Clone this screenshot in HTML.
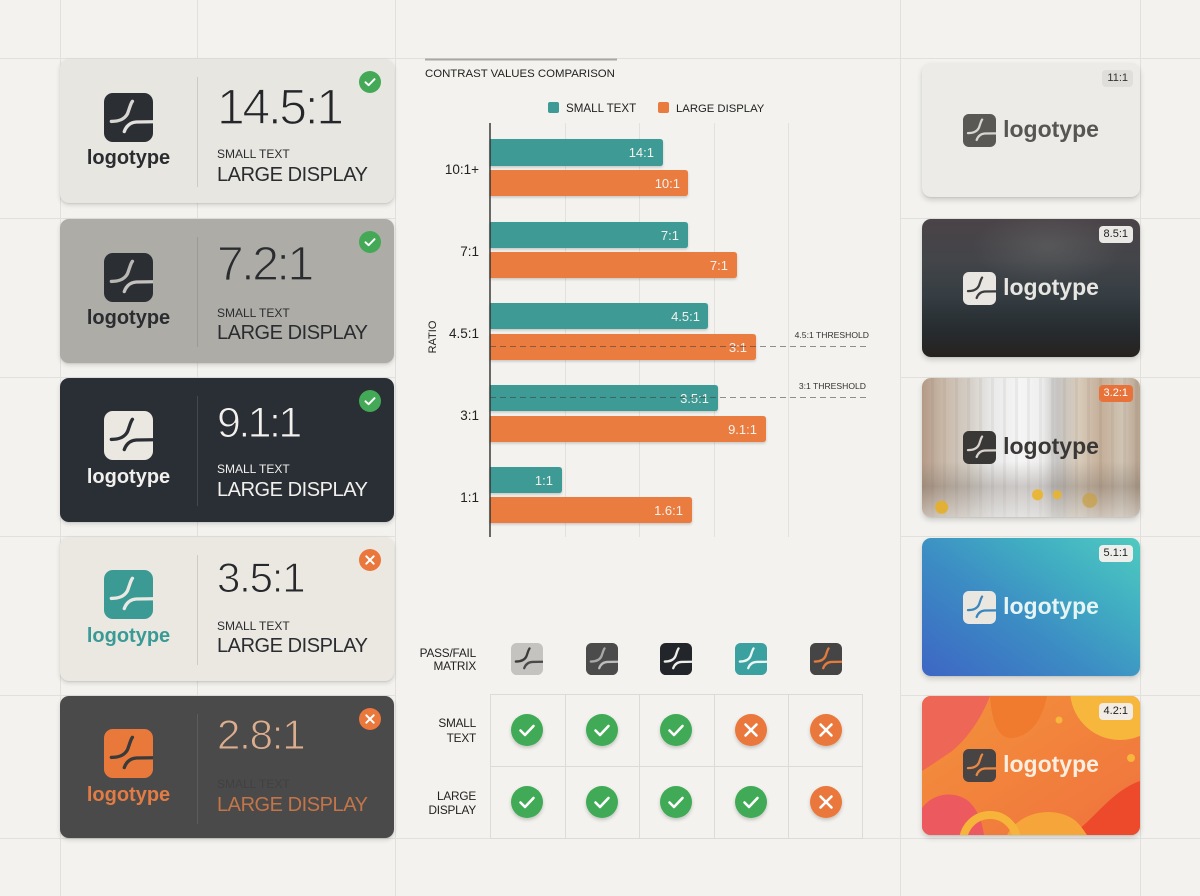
<!DOCTYPE html>
<html><head><meta charset="utf-8">
<style>
*{margin:0;padding:0;box-sizing:border-box}
body{width:1200px;height:896px;background:#f3f2ee;position:relative;overflow:hidden;font-family:"Liberation Sans",sans-serif}
.abs{position:absolute}
.lc{position:absolute;left:60px;width:334px;height:144px;border-radius:9px;box-shadow:0 2px 5px rgba(0,0,0,.14),0 1px 1px rgba(0,0,0,.06);overflow:hidden}
.lc .logo{position:absolute;left:44px;top:34px;width:49px;height:49px}
.lc .lt{position:absolute;left:0;width:137px;text-align:center;font-weight:bold;font-size:20px;line-height:20px;top:89px}
.lc .dv{position:absolute;left:137px;top:18px;width:1px;height:110px;background:rgba(0,0,0,.12)}
.lc .rt{position:absolute;left:157px;white-space:nowrap}
.lc .st{position:absolute;left:157px;font-size:12px;line-height:12px;white-space:nowrap}
.lc .ld{position:absolute;left:157px;font-size:20px;line-height:20px;letter-spacing:-0.45px;white-space:nowrap}
.lc .bd{position:absolute;left:299px;top:12px;width:22px;height:22px}
.rc{position:absolute;left:922px;width:218px;border-radius:9px;overflow:hidden;box-shadow:0 3px 6px rgba(0,0,0,.16),0 1px 1px rgba(0,0,0,.06)}
.rc .in{position:absolute;left:0;top:0;width:100%;height:100%;display:flex;align-items:center;justify-content:center}
.rc .in svg{width:33px;height:33px;flex:none}
.rc .in span{font-weight:bold;font-size:23px;line-height:23px;margin-left:7px;margin-top:-2px}
.rc .bg{position:absolute;right:7px;top:7px;height:17px;padding:0 5px;font-size:11px;line-height:17px;border-radius:4px}
</style></head><body>

<svg class="abs" style="left:0;top:0" width="1200" height="896" viewBox="0 0 1200 896">
<defs>
<filter id="sh" x="-10%" y="-30%" width="120%" height="170%"><feDropShadow dx="0" dy="1.5" stdDeviation="1.4" flood-color="#000" flood-opacity="0.18"/></filter>
<filter id="sh2" x="-30%" y="-30%" width="160%" height="170%"><feDropShadow dx="0" dy="2" stdDeviation="1.8" flood-color="#000" flood-opacity="0.2"/></filter>
</defs>
<g stroke="#e1e0dc" stroke-width="1">
<line x1="60.5" y1="0" x2="60.5" y2="896"/>
<line x1="197.5" y1="0" x2="197.5" y2="838"/>
<line x1="395.5" y1="0" x2="395.5" y2="896"/>
<line x1="900.5" y1="0" x2="900.5" y2="896"/>
<line x1="1140.5" y1="0" x2="1140.5" y2="896"/>
<line x1="0" y1="58.5" x2="1200" y2="58.5"/>
<line x1="0" y1="218.5" x2="395" y2="218.5"/><line x1="900" y1="218.5" x2="1200" y2="218.5"/>
<line x1="0" y1="377.5" x2="395" y2="377.5"/><line x1="900" y1="377.5" x2="1200" y2="377.5"/>
<line x1="0" y1="536.5" x2="395" y2="536.5"/><line x1="900" y1="536.5" x2="1200" y2="536.5"/>
<line x1="0" y1="695.5" x2="395" y2="695.5"/><line x1="900" y1="695.5" x2="1200" y2="695.5"/>
<line x1="0" y1="838.5" x2="1200" y2="838.5"/>
</g>

<line x1="425" y1="59.5" x2="617" y2="59.5" stroke="#a9a8a5" stroke-width="2"/>
<text x="425" y="77" font-size="11.4" fill="#222">CONTRAST VALUES COMPARISON</text>

<rect x="548" y="102" width="11" height="11" rx="2" fill="#3d9a95"/>
<text x="566" y="112" font-size="11.6" fill="#222">SMALL TEXT</text>
<rect x="658" y="102" width="11" height="11" rx="2" fill="#ea7b3f"/>
<text x="676" y="112" font-size="11.3" fill="#222">LARGE DISPLAY</text>

<g stroke="#e2e1dd" stroke-width="1">
<line x1="565.5" y1="123" x2="565.5" y2="537"/>
<line x1="639.5" y1="123" x2="639.5" y2="537"/>
<line x1="714.5" y1="123" x2="714.5" y2="537"/>
<line x1="788.5" y1="123" x2="788.5" y2="537"/>
</g>

<g filter="url(#sh)">
<path d="M490 139 H660 Q663 139 663 142 V163 Q663 166 660 166 H490Z" fill="#3d9a95"/>
<path d="M490 170 H685 Q688 170 688 173 V193 Q688 196 685 196 H490Z" fill="#ea7b3f"/>
<path d="M490 222 H685 Q688 222 688 225 V245 Q688 248 685 248 H490Z" fill="#3d9a95"/>
<path d="M490 252 H734 Q737 252 737 255 V275 Q737 278 734 278 H490Z" fill="#ea7b3f"/>
<path d="M490 303 H705 Q708 303 708 306 V326 Q708 329 705 329 H490Z" fill="#3d9a95"/>
<path d="M490 334 H753 Q756 334 756 337 V357 Q756 360 753 360 H490Z" fill="#ea7b3f"/>
<path d="M490 385 H715 Q718 385 718 388 V408 Q718 411 715 411 H490Z" fill="#3d9a95"/>
<path d="M490 416 H763 Q766 416 766 419 V439 Q766 442 763 442 H490Z" fill="#ea7b3f"/>
<path d="M490 467 H559 Q562 467 562 470 V490 Q562 493 559 493 H490Z" fill="#3d9a95"/>
<path d="M490 497 H689 Q692 497 692 500 V520 Q692 523 689 523 H490Z" fill="#ea7b3f"/>
</g>
<g font-size="13" fill="#f4f1ec" text-anchor="end">
<text x="654" y="157">14:1</text>
<text x="680" y="188">10:1</text>
<text x="679" y="240">7:1</text>
<text x="728" y="270">7:1</text>
<text x="700" y="321">4.5:1</text>
<text x="747" y="352">3:1</text>
<text x="709" y="403">3.5:1</text>
<text x="757" y="434">9.1:1</text>
<text x="553" y="485">1:1</text>
<text x="683" y="515">1.6:1</text>
</g>

<line x1="490" y1="123" x2="490" y2="537" stroke="#2d2d2d" stroke-width="1.4"/>

<g font-size="13.5" fill="#222" text-anchor="end">
<text x="479" y="174">10:1+</text>
<text x="479" y="256">7:1</text>
<text x="479" y="338">4.5:1</text>
<text x="479" y="420">3:1</text>
<text x="479" y="502">1:1</text>
</g>
<text x="436" y="337" font-size="11" fill="#222" text-anchor="middle" transform="rotate(-90 436 337)">RATIO</text>

<line x1="490" y1="346.5" x2="870" y2="346.5" stroke="rgba(60,60,60,0.55)" stroke-width="1" stroke-dasharray="6 4"/>
<line x1="490" y1="397.5" x2="870" y2="397.5" stroke="rgba(60,60,60,0.55)" stroke-width="1" stroke-dasharray="6 4"/>
<text x="869" y="338" font-size="8.6" fill="#333" text-anchor="end">4.5:1 THRESHOLD</text>
<text x="866" y="389" font-size="8.6" fill="#333" text-anchor="end">3:1 THRESHOLD</text>

<g font-size="11.8" fill="#222" text-anchor="end" letter-spacing="-0.2">
<text x="476" y="657">PASS/FAIL</text>
<text x="476" y="670">MATRIX</text>
<text x="476" y="727">SMALL</text>
<text x="476" y="742">TEXT</text>
<text x="476" y="800">LARGE</text>
<text x="476" y="814">DISPLAY</text>
</g>

<g>
<svg x="511" y="643" width="32" height="32" viewBox="0 0 50 50"><rect width="50" height="50" rx="9" fill="#c5c3bf"/><path d="M7.5 29 C15 29 21 27 24 21 C26 16 27 11 29 8.5" stroke="#3b3b3b" stroke-width="3.6" fill="none" stroke-linecap="round"/><path d="M20.7 39.3 C23 33 27 30 33 29.6 L52 29.3" stroke="#4a4a4a" stroke-width="3.6" fill="none" stroke-linecap="round"/></svg>
<svg x="586" y="643" width="32" height="32" viewBox="0 0 50 50"><rect width="50" height="50" rx="9" fill="#4b4b4b"/><path d="M7.5 29 C15 29 21 27 24 21 C26 16 27 11 29 8.5" stroke="#a8a8a8" stroke-width="3.6" fill="none" stroke-linecap="round"/><path d="M20.7 39.3 C23 33 27 30 33 29.6 L52 29.3" stroke="#bdbdbd" stroke-width="3.6" fill="none" stroke-linecap="round"/></svg>
<svg x="660" y="643" width="32" height="32" viewBox="0 0 50 50"><rect width="50" height="50" rx="9" fill="#22262b"/><path d="M7.5 29 C15 29 21 27 24 21 C26 16 27 11 29 8.5" stroke="#f0efeb" stroke-width="3.6" fill="none" stroke-linecap="round"/><path d="M20.7 39.3 C23 33 27 30 33 29.6 L52 29.3" stroke="#f0efeb" stroke-width="3.6" fill="none" stroke-linecap="round"/></svg>
<svg x="735" y="643" width="32" height="32" viewBox="0 0 50 50"><rect width="50" height="50" rx="9" fill="#3ba0a0"/><path d="M7.5 29 C15 29 21 27 24 21 C26 16 27 11 29 8.5" stroke="#eaf5f4" stroke-width="3.6" fill="none" stroke-linecap="round"/><path d="M20.7 39.3 C23 33 27 30 33 29.6 L52 29.3" stroke="#eaf5f4" stroke-width="3.6" fill="none" stroke-linecap="round"/></svg>
<svg x="810" y="643" width="32" height="32" viewBox="0 0 50 50"><rect width="50" height="50" rx="9" fill="#454545"/><path d="M7.5 29 C15 29 21 27 24 21 C26 16 27 11 29 8.5" stroke="#e47b3e" stroke-width="3.6" fill="none" stroke-linecap="round"/><path d="M20.7 39.3 C23 33 27 30 33 29.6 L52 29.3" stroke="#e47b3e" stroke-width="3.6" fill="none" stroke-linecap="round"/></svg>
</g>

<g stroke="#dcdbd7" stroke-width="1" fill="none">
<rect x="490.5" y="694.5" width="372" height="144"/>
<line x1="565.5" y1="694" x2="565.5" y2="838"/>
<line x1="639.5" y1="694" x2="639.5" y2="838"/>
<line x1="714.5" y1="694" x2="714.5" y2="838"/>
<line x1="788.5" y1="694" x2="788.5" y2="838"/>
<line x1="490" y1="766.5" x2="863" y2="766.5"/>
</g>
<g filter="url(#sh2)">
<circle cx="527" cy="730" r="16" fill="#3faa57"/>
<circle cx="602" cy="730" r="16" fill="#3faa57"/>
<circle cx="676" cy="730" r="16" fill="#3faa57"/>
<circle cx="751" cy="730" r="16" fill="#ea773b"/>
<circle cx="826" cy="730" r="16" fill="#ea773b"/>
<circle cx="527" cy="802" r="16" fill="#3faa57"/>
<circle cx="602" cy="802" r="16" fill="#3faa57"/>
<circle cx="676" cy="802" r="16" fill="#3faa57"/>
<circle cx="751" cy="802" r="16" fill="#3faa57"/>
<circle cx="826" cy="802" r="16" fill="#ea773b"/>
</g>
<g stroke="#fff" stroke-width="2.6" fill="none" stroke-linecap="round" stroke-linejoin="round">
<path d="M520.5 730.5 L525 735 L533.5 726"/>
<path d="M595.5 730.5 L600 735 L608.5 726"/>
<path d="M669.5 730.5 L674 735 L682.5 726"/>
<path d="M745.5 724.5 L756.5 735.5 M756.5 724.5 L745.5 735.5"/>
<path d="M820.5 724.5 L831.5 735.5 M831.5 724.5 L820.5 735.5"/>
<path d="M520.5 802.5 L525 807 L533.5 798"/>
<path d="M595.5 802.5 L600 807 L608.5 798"/>
<path d="M669.5 802.5 L674 807 L682.5 798"/>
<path d="M744.5 802.5 L749 807 L757.5 798"/>
<path d="M820.5 796.5 L831.5 807.5 M831.5 796.5 L820.5 807.5"/>
</g>
</svg>

<!-- LEFT CARDS -->
<div class="lc" style="top:59px;background:#e8e6e1">
  <svg class="logo" viewBox="0 0 50 50"><rect width="50" height="50" rx="9" fill="#2b2e33"/><path d="M7.5 29 C15 29 21 27 24 21 C26 16 27 11 29 8.5" stroke="#d8d6d2" stroke-width="3.4" fill="none" stroke-linecap="round"/><path d="M20.7 39.3 C23 33 27 30 33 29.6 L52 29.3" stroke="#e4e2de" stroke-width="3.4" fill="none" stroke-linecap="round"/></svg>
  <div class="lt" style="color:#2a2c30">logotype</div>
  <div class="dv"></div>
  <div class="rt" style="top:22.7px;font-size:50px;line-height:50px;letter-spacing:-2.4px;color:#24262a;-webkit-text-stroke:1.3px #e8e6e1">14.5:1</div>
  <div class="st" style="top:89px;color:#2a2c30">SMALL TEXT</div>
  <div class="ld" style="top:106px;color:#2a2c30">LARGE DISPLAY</div>
  <svg class="bd" viewBox="0 0 22 22"><circle cx="11" cy="11" r="11" fill="#43a957"/><path d="M6.5 11.3 L9.6 14.2 L15.5 8.2" stroke="#fff" stroke-width="2" fill="none" stroke-linecap="round" stroke-linejoin="round"/></svg>
</div>

<div class="lc" style="top:219px;background:#adaca7">
  <svg class="logo" viewBox="0 0 50 50"><rect width="50" height="50" rx="9" fill="#2b2e33"/><path d="M7.5 29 C15 29 21 27 24 21 C26 16 27 11 29 8.5" stroke="#b9b7b3" stroke-width="3.4" fill="none" stroke-linecap="round"/><path d="M20.7 39.3 C23 33 27 30 33 29.6 L52 29.3" stroke="#c4c2be" stroke-width="3.4" fill="none" stroke-linecap="round"/></svg>
  <div class="lt" style="color:#2a2c30">logotype</div>
  <div class="dv" style="background:rgba(0,0,0,.1)"></div>
  <div class="rt" style="top:22.4px;font-size:48px;line-height:48px;letter-spacing:-2.4px;color:#2a2c30;-webkit-text-stroke:1.2px #adaca7">7.2:1</div>
  <div class="st" style="top:88px;color:#2a2c30">SMALL TEXT</div>
  <div class="ld" style="top:104px;color:#2a2c30">LARGE DISPLAY</div>
  <svg class="bd" viewBox="0 0 22 22"><circle cx="11" cy="11" r="11" fill="#43a957"/><path d="M6.5 11.3 L9.6 14.2 L15.5 8.2" stroke="#fff" stroke-width="2" fill="none" stroke-linecap="round" stroke-linejoin="round"/></svg>
</div>

<div class="lc" style="top:378px;background:#2a2e35">
  <svg class="logo" style="top:33px" viewBox="0 0 50 50"><rect width="50" height="50" rx="9" fill="#ebe8e2"/><path d="M7.5 29 C15 29 21 27 24 21 C26 16 27 11 29 8.5" stroke="#2a2e35" stroke-width="3.4" fill="none" stroke-linecap="round"/><path d="M20.7 39.3 C23 33 27 30 33 29.6 L52 29.3" stroke="#2a2e35" stroke-width="3.4" fill="none" stroke-linecap="round"/></svg>
  <div class="lt" style="color:#f1f0ec">logotype</div>
  <div class="dv" style="background:rgba(255,255,255,.13)"></div>
  <div class="rt" style="top:23.6px;font-size:43px;line-height:43px;letter-spacing:-2.6px;color:#f2f1ed;-webkit-text-stroke:1px #2a2e35">9.1:1</div>
  <div class="st" style="top:85px;color:#f1f0ec">SMALL TEXT</div>
  <div class="ld" style="top:102px;color:#f1f0ec">LARGE DISPLAY</div>
  <svg class="bd" viewBox="0 0 22 22"><circle cx="11" cy="11" r="11" fill="#43a957"/><path d="M6.5 11.3 L9.6 14.2 L15.5 8.2" stroke="#fff" stroke-width="2" fill="none" stroke-linecap="round" stroke-linejoin="round"/></svg>
</div>

<div class="lc" style="top:537px;background:#ebe8e2">
  <svg class="logo" style="top:33px" viewBox="0 0 50 50"><rect width="50" height="50" rx="9" fill="#3c9a95"/><path d="M7.5 29 C15 29 21 27 24 21 C26 16 27 11 29 8.5" stroke="#ebe9e3" stroke-width="3.4" fill="none" stroke-linecap="round"/><path d="M20.7 39.3 C23 33 27 30 33 29.6 L52 29.3" stroke="#ebe9e3" stroke-width="3.4" fill="none" stroke-linecap="round"/></svg>
  <div class="lt" style="color:#3a9a95">logotype</div>
  <div class="dv"></div>
  <div class="rt" style="top:20.4px;font-size:42px;line-height:42px;letter-spacing:-1.2px;color:#26282c;-webkit-text-stroke:1px #ebe8e2">3.5:1</div>
  <div class="st" style="top:83px;color:#2a2c30">SMALL TEXT</div>
  <div class="ld" style="top:99px;color:#2a2c30">LARGE DISPLAY</div>
  <svg class="bd" viewBox="0 0 22 22"><circle cx="11" cy="11" r="11" fill="#ea773b"/><path d="M7.3 7.3 L14.7 14.7 M14.7 7.3 L7.3 14.7" stroke="#fff" stroke-width="2" fill="none" stroke-linecap="round"/></svg>
</div>

<div class="lc" style="top:696px;height:142px;background:#4a4a4a">
  <svg class="logo" style="top:33px" viewBox="0 0 50 50"><rect width="50" height="50" rx="9" fill="#e9793b"/><path d="M7.5 29 C15 29 21 27 24 21 C26 16 27 11 29 8.5" stroke="#3a3a3a" stroke-width="3.4" fill="none" stroke-linecap="round"/><path d="M20.7 39.3 C23 33 27 30 33 29.6 L52 29.3" stroke="#3a3a3a" stroke-width="3.4" fill="none" stroke-linecap="round"/></svg>
  <div class="lt" style="color:#e27c45">logotype</div>
  <div class="dv" style="background:rgba(255,255,255,.1)"></div>
  <div class="rt" style="top:18.4px;font-size:42px;line-height:42px;letter-spacing:-1.2px;color:#dcae8e;-webkit-text-stroke:1px #4a4a4a">2.8:1</div>
  <div class="st" style="top:82px;color:#414141">SMALL TEXT</div>
  <div class="ld" style="top:99px;color:#c47548">LARGE DISPLAY</div>
  <svg class="bd" viewBox="0 0 22 22"><circle cx="11" cy="11" r="11" fill="#ea773b"/><path d="M7.3 7.3 L14.7 14.7 M14.7 7.3 L7.3 14.7" stroke="#fff" stroke-width="2" fill="none" stroke-linecap="round"/></svg>
</div>

<!-- RIGHT CARDS -->
<div class="rc" style="top:63px;height:134px;background:#ecebe7">
  <div class="in">
    <svg viewBox="0 0 50 50"><rect width="50" height="50" rx="9" fill="#5a5855"/><path d="M7.5 29 C15 29 21 27 24 21 C26 16 27 11 29 8.5" stroke="#d8d6d2" stroke-width="3.4" fill="none" stroke-linecap="round"/><path d="M20.7 39.3 C23 33 27 30 33 29.6 L52 29.3" stroke="#d8d6d2" stroke-width="3.4" fill="none" stroke-linecap="round"/></svg>
    <span style="color:#585653">logotype</span>
  </div>
  <div class="bg" style="background:#e0deda;color:#333">11:1</div>
</div>

<div class="rc" style="top:219px;height:138px;background:radial-gradient(ellipse 50% 40% at 58% 20%, rgba(120,122,120,0.35), rgba(120,122,120,0) 70%), linear-gradient(180deg,#4a4347 0%,#434549 30%,#363e43 55%,#262c30 80%,#27221f 100%)">
  <div class="in">
    <svg viewBox="0 0 50 50"><rect width="50" height="50" rx="9" fill="#e9e5e0"/><path d="M7.5 29 C15 29 21 27 24 21 C26 16 27 11 29 8.5" stroke="#3a3c40" stroke-width="3.4" fill="none" stroke-linecap="round"/><path d="M20.7 39.3 C23 33 27 30 33 29.6 L52 29.3" stroke="#3a3c40" stroke-width="3.4" fill="none" stroke-linecap="round"/></svg>
    <span style="color:#e8e6e2">logotype</span>
  </div>
  <div class="bg" style="background:#e9e8e5;color:#222">8.5:1</div>
</div>

<div class="rc" style="top:378px;height:139px;background:
 radial-gradient(circle at 9% 93%, rgba(230,175,40,0.9) 0 6px, rgba(230,175,40,0) 7px),
 radial-gradient(circle at 53% 84%, rgba(235,180,40,0.9) 0 5px, rgba(235,180,40,0) 6px),
 radial-gradient(circle at 62% 84%, rgba(235,180,40,0.85) 0 4px, rgba(235,180,40,0) 5px),
 radial-gradient(circle at 77% 88%, rgba(200,160,70,0.75) 0 7px, rgba(200,160,70,0) 8px),
 linear-gradient(180deg, rgba(255,255,255,0) 60%, rgba(110,100,92,0.3) 78%, rgba(215,212,208,0.55) 100%),
 repeating-linear-gradient(90deg, rgba(255,255,255,0) 0 9px, rgba(110,100,90,0.08) 9px 12px),
 linear-gradient(90deg,#b39a86 0%,#c9b9a9 10%,#d5cfc7 22%,#e9e9e9 32%,#f5f5f5 45%,#eeeeee 55%,#c6c4c2 62%,#d8cbba 72%,#c4ae98 82%,#d0c4b4 92%,#b7a28d 100%)">
  <div class="in">
    <svg viewBox="0 0 50 50"><rect width="50" height="50" rx="9" fill="#3a3836"/><path d="M7.5 29 C15 29 21 27 24 21 C26 16 27 11 29 8.5" stroke="#d8d3cd" stroke-width="3.4" fill="none" stroke-linecap="round"/><path d="M20.7 39.3 C23 33 27 30 33 29.6 L52 29.3" stroke="#d8d3cd" stroke-width="3.4" fill="none" stroke-linecap="round"/></svg>
    <span style="color:#3a3836">logotype</span>
  </div>
  <div class="bg" style="background:#e8733a;color:#fff">3.2:1</div>
</div>

<div class="rc" style="top:538px;height:138px;background:linear-gradient(35deg,#3d66c4 0%,#3c8cc4 42%,#41afc2 72%,#4fcac0 100%)">
  <div class="in">
    <svg viewBox="0 0 50 50"><rect width="50" height="50" rx="9" fill="#eae7e1"/><path d="M7.5 29 C15 29 21 27 24 21 C26 16 27 11 29 8.5" stroke="#3a86bd" stroke-width="3.4" fill="none" stroke-linecap="round"/><path d="M20.7 39.3 C23 33 27 30 33 29.6 L52 29.3" stroke="#3a86bd" stroke-width="3.4" fill="none" stroke-linecap="round"/></svg>
    <span style="color:#e6f5f3">logotype</span>
  </div>
  <div class="bg" style="background:#eeeeea;color:#222">5.1:1</div>
</div>

<div class="rc" style="top:696px;height:139px;background:#f28340">
  <svg class="abs" style="left:0;top:0" width="218" height="139" viewBox="0 0 218 139">
    <defs><linearGradient id="o5" x1="0" y1="0" x2="1" y2="1"><stop offset="0" stop-color="#f3923a"/><stop offset="1" stop-color="#f0723e"/></linearGradient></defs>
    <rect width="218" height="139" fill="url(#o5)"/>
    <path d="M0 0 H68 C60 20 48 40 30 55 C20 62 8 70 0 75 Z" fill="#ec5f5c" opacity=".85"/>
    <path d="M68 0 H125 C120 25 108 40 90 42 C78 43 70 30 68 0Z" fill="#f07a2e"/>
    <circle cx="198" cy="-6" r="50" fill="#f7b63c"/>
    <circle cx="137" cy="24" r="3.5" fill="#f7b63c"/>
    <circle cx="209" cy="62" r="4" fill="#f7b63c"/>
    <path d="M218 85 C190 95 175 120 150 139 H218Z" fill="#ec4a2b"/>
    <path d="M0 112 C10 98 30 94 45 104 C55 112 60 125 62 139 H0Z" fill="#ec5a60"/>
    <path d="M85 139 C95 120 120 112 140 118 C155 122 160 132 165 139Z" fill="#f6a53a"/>
    <circle cx="68" cy="146" r="27" fill="none" stroke="#f7b43a" stroke-width="8"/>
  </svg>
  <div class="in">
    <svg viewBox="0 0 50 50"><rect width="50" height="50" rx="9" fill="#474443"/><path d="M7.5 29 C15 29 21 27 24 21 C26 16 27 11 29 8.5" stroke="#e98845" stroke-width="3.4" fill="none" stroke-linecap="round"/><path d="M20.7 39.3 C23 33 27 30 33 29.6 L52 29.3" stroke="#e98845" stroke-width="3.4" fill="none" stroke-linecap="round"/></svg>
    <span style="color:#fdeee0">logotype</span>
  </div>
  <div class="bg" style="background:#f3ece4;color:#222">4.2:1</div>
</div>

</body></html>
